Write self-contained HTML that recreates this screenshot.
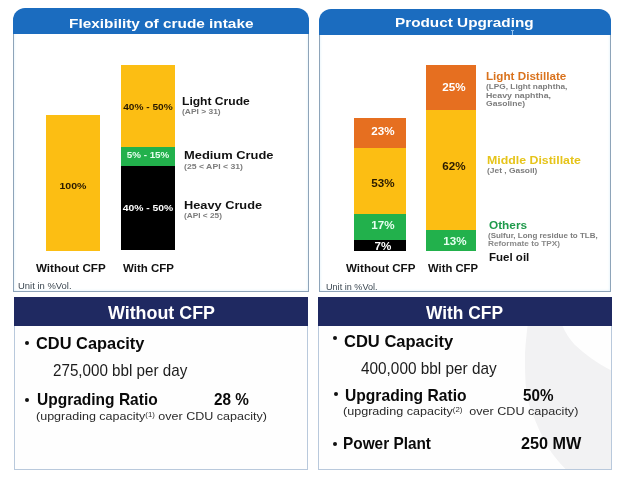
<!DOCTYPE html>
<html>
<head>
<meta charset="utf-8">
<title>CFP overview</title>
<style>
html,body{margin:0;padding:0;background:#fff;}
body{width:622px;height:478px;background:#fff;position:relative;overflow:hidden;font-family:"Liberation Sans",sans-serif;}
.t{position:absolute;white-space:nowrap;line-height:1;transform-origin:0 50%;}
.t.pc{transform-origin:50% 50%;}
.t sup{font-size:0.62em;vertical-align:baseline;position:relative;top:-0.38em;}
.panel{position:absolute;box-sizing:border-box;border:1px solid #8ea4b9;border-top:none;background:#fff;box-shadow:inset 0 0 3px #d9eef8;}
.hdr{position:absolute;background:#1b6cbf;border-radius:12px 12px 0 0;}
.hdr2{position:absolute;background:#1f2961;}
.bar{position:absolute;}
.y{background:#fcbe13;}
.g{background:#22b14c;}
.k{background:#000;}
.o{background:#e66f20;}
.dot{position:absolute;width:4px;height:4px;border-radius:50%;background:#111;}
.box{position:absolute;box-sizing:border-box;border:1px solid #b9c9dc;border-top:none;background:#fefefe;}
</style>
</head>
<body>
<div id="wrap" style="position:absolute;left:0;top:0;width:622px;height:478px;filter:blur(0.45px);">

<!-- top-left panel -->
<div class="panel" style="left:13.2px;top:20px;width:295.5px;height:271.6px;"></div>
<div class="hdr" style="left:13px;top:8.3px;width:296px;height:26.2px;"></div>
<div class="bar y" style="left:46px;top:114.5px;width:53.7px;height:136px;"></div>
<div class="bar y" style="left:121px;top:65px;width:54px;height:83px;"></div>
<div class="bar g" style="left:121px;top:147.3px;width:54px;height:18.7px;"></div>
<div class="bar k" style="left:121px;top:165.9px;width:54px;height:84.6px;"></div>

<!-- top-right panel -->
<div class="panel" style="left:319.3px;top:20px;width:291.4px;height:271.6px;"></div>
<div class="hdr" style="left:319px;top:9.3px;width:292.2px;height:25.4px;"></div>
<div class="bar o" style="left:354px;top:117.7px;width:51.5px;height:30.3px;"></div>
<div class="bar y" style="left:354px;top:147.7px;width:51.5px;height:66px;"></div>
<div class="bar g" style="left:354px;top:213.5px;width:51.5px;height:26.3px;"></div>
<div class="bar k" style="left:354px;top:239.5px;width:51.5px;height:11px;"></div>
<div class="bar o" style="left:425.7px;top:65.4px;width:50.5px;height:44.8px;"></div>
<div class="bar y" style="left:425.7px;top:110px;width:50.5px;height:120.3px;"></div>
<div class="bar g" style="left:425.7px;top:230px;width:50.5px;height:20.9px;"></div>

<div style="position:absolute;left:512.4px;top:30.2px;width:1px;height:5px;background:#9cc6f0;"></div>
<div style="position:absolute;left:511.4px;top:30px;width:3px;height:1px;background:#8dbdec;"></div>
<!-- bottom-left panel -->
<div class="box" style="left:13.7px;top:320px;width:294.3px;height:149.5px;"></div>
<div class="hdr2" style="left:13.7px;top:296.6px;width:294.3px;height:29.3px;"></div>
<div class="dot" style="left:24.9px;top:341.2px;"></div>
<div class="dot" style="left:24.7px;top:398px;"></div>

<!-- bottom-right panel -->
<div class="box" style="left:317.5px;top:310px;width:294.8px;height:159.5px;overflow:hidden;">
<svg width="295" height="160" viewBox="317.5 310 295 160" style="position:absolute;left:0;top:0;">
<path d="M526 326 C524.5 340 523.5 350 523.5 357 C523.5 370 523.8 380 524.5 388 C526 400 528 408 532 416 C535 424 540 436 547 448 C552 456 558 463 565 470 L613 470 L613 372 C600 366 584 355 573 344.5 C568 339 564 333 561 326 Z" fill="#f2f2f3"/>
</svg>
</div>
<div class="hdr2" style="left:317.5px;top:296.7px;width:294.6px;height:28.9px;"></div>
<div class="dot" style="left:332.6px;top:335.9px;"></div>
<div class="dot" style="left:333.6px;top:392.2px;"></div>
<div class="dot" style="left:333.4px;top:442.2px;"></div>

<div class="t" id="h1a" style="left:69.0px;top:16.9px;font-size:13.4px;font-weight:bold;color:#fff;transform:scaleX(1.148);">Flexibility of crude intake</div>
<div class="t" id="h1b" style="left:395.4px;top:16.3px;font-size:13.4px;font-weight:bold;color:#fff;transform:scaleX(1.143);">Product Upgrading</div>
<div class="t" id="l1" style="left:182.4px;top:96.0px;font-size:11.1px;font-weight:bold;color:#111;transform:scaleX(1.089);">Light Crude</div>
<div class="t" id="s1" style="left:181.7px;top:107.8px;font-size:7.8px;font-weight:bold;color:#7d7d7d;transform:scaleX(1.081);">(API &gt; 31)</div>
<div class="t" id="l2" style="left:184.0px;top:150.4px;font-size:11.1px;font-weight:bold;color:#111;transform:scaleX(1.162);">Medium Crude</div>
<div class="t" id="s2" style="left:184.0px;top:162.8px;font-size:7.8px;font-weight:bold;color:#7d7d7d;transform:scaleX(1.113);">(25 &lt; API &lt; 31)</div>
<div class="t" id="l3" style="left:184.0px;top:199.9px;font-size:11.1px;font-weight:bold;color:#111;transform:scaleX(1.151);">Heavy Crude</div>
<div class="t" id="s3" style="left:184.0px;top:212.1px;font-size:7.8px;font-weight:bold;color:#7d7d7d;transform:scaleX(1.061);">(API &lt; 25)</div>
<div class="t" id="x1" style="left:35.9px;top:263.0px;font-size:11.1px;font-weight:bold;color:#111;transform:scaleX(1.048);">Without CFP</div>
<div class="t" id="x2" style="left:123.3px;top:263.0px;font-size:11.1px;font-weight:bold;color:#111;transform:scaleX(1.035);">With CFP</div>
<div class="t" id="u1" style="left:18.1px;top:282.3px;font-size:8.3px;font-weight:normal;color:#3b4650;transform:scaleX(1.138);">Unit in %Vol.</div>
<div class="t" id="r1" style="left:486.3px;top:71.0px;font-size:11.1px;font-weight:bold;color:#d9721d;transform:scaleX(1.051);">Light Distillate</div>
<div class="t" id="rs1a" style="left:486.0px;top:82.8px;font-size:7.8px;font-weight:bold;color:#7d7d7d;transform:scaleX(1.061);">(LPG, Light naphtha,</div>
<div class="t" id="rs1b" style="left:486.0px;top:91.7px;font-size:7.8px;font-weight:bold;color:#7d7d7d;transform:scaleX(1.129);">Heavy naphtha,</div>
<div class="t" id="rs1c" style="left:486.0px;top:99.5px;font-size:7.8px;font-weight:bold;color:#7d7d7d;transform:scaleX(1.100);">Gasoline)</div>
<div class="t" id="r2" style="left:486.9px;top:154.8px;font-size:11.1px;font-weight:bold;color:#e6c41a;transform:scaleX(1.112);">Middle Distillate</div>
<div class="t" id="rs2" style="left:487.0px;top:167.2px;font-size:7.8px;font-weight:bold;color:#7d7d7d;transform:scaleX(1.077);">(Jet , Gasoil)</div>
<div class="t" id="r3" style="left:488.5px;top:220.1px;font-size:11.1px;font-weight:bold;color:#1f9a4b;transform:scaleX(1.064);">Others</div>
<div class="t" id="rs3a" style="left:488.0px;top:232.4px;font-size:7.8px;font-weight:bold;color:#7d7d7d;transform:scaleX(1.025);">(Sulfur, Long residue to TLB,</div>
<div class="t" id="rs3b" style="left:488.0px;top:240.1px;font-size:7.8px;font-weight:bold;color:#8a8a8a;transform:scaleX(1.059);">Reformate to TPX)</div>
<div class="t" id="r4" style="left:488.5px;top:251.8px;font-size:11.1px;font-weight:bold;color:#111;transform:scaleX(1.038);">Fuel oil</div>
<div class="t" id="x3" style="left:346.4px;top:263.1px;font-size:11.1px;font-weight:bold;color:#111;transform:scaleX(1.045);">Without CFP</div>
<div class="t" id="x4" style="left:427.9px;top:263.1px;font-size:11.1px;font-weight:bold;color:#111;transform:scaleX(1.016);">With CFP</div>
<div class="t" id="u2" style="left:326.4px;top:282.6px;font-size:8.3px;font-weight:normal;color:#3b4650;transform:scaleX(1.096);">Unit in %Vol.</div>
<div class="t" id="h2a" style="left:107.9px;top:303.7px;font-size:18.0px;font-weight:bold;color:#fff;transform:scaleX(0.992);">Without CFP</div>
<div class="t" id="b1" style="left:36.4px;top:335.4px;font-size:16.2px;font-weight:bold;color:#0a0a0a;transform:scaleX(1.013);">CDU Capacity</div>
<div class="t" id="g1" style="left:53.4px;top:361.7px;font-size:16.2px;font-weight:normal;color:#1c1c1c;transform:scaleX(0.938);">275,000 bbl per day</div>
<div class="t" id="b2" style="left:37.0px;top:392.4px;font-size:15.7px;font-weight:bold;color:#0a0a0a;transform:scaleX(0.989);">Upgrading Ratio</div>
<div class="t" id="b3" style="left:213.5px;top:392.4px;font-size:15.7px;font-weight:bold;color:#0a0a0a;transform:scaleX(0.975);">28 %</div>
<div class="t" id="m1" style="left:35.7px;top:411.0px;font-size:10.8px;font-weight:normal;color:#2a2a2a;transform:scaleX(1.160);">(upgrading capacity<sup>(1)</sup> over CDU capacity)</div>
<div class="t" id="h2b" style="left:426.2px;top:303.7px;font-size:18.0px;font-weight:bold;color:#fff;transform:scaleX(0.965);">With CFP</div>
<div class="t" id="c1" style="left:344.1px;top:333.2px;font-size:16.2px;font-weight:bold;color:#0a0a0a;transform:scaleX(1.021);">CDU Capacity</div>
<div class="t" id="c2" style="left:361.2px;top:359.8px;font-size:16.2px;font-weight:normal;color:#1c1c1c;transform:scaleX(0.948);">400,000 bbl per day</div>
<div class="t" id="c3" style="left:344.8px;top:387.8px;font-size:15.7px;font-weight:bold;color:#0a0a0a;transform:scaleX(0.996);">Upgrading Ratio</div>
<div class="t" id="c4" style="left:522.6px;top:387.8px;font-size:15.7px;font-weight:bold;color:#0a0a0a;transform:scaleX(0.971);">50%</div>
<div class="t" id="c5" style="left:343.4px;top:405.9px;font-size:10.8px;font-weight:normal;color:#2a2a2a;transform:scaleX(1.165);">(upgrading capacity<sup>(2)</sup>&nbsp; over CDU capacity)</div>
<div class="t" id="c6" style="left:343.4px;top:436.0px;font-size:15.7px;font-weight:bold;color:#0a0a0a;transform:scaleX(0.980);">Power Plant</div>
<div class="t" id="c7" style="left:521.2px;top:436.0px;font-size:15.7px;font-weight:bold;color:#0a0a0a;transform:scaleX(1.033);">250 MW</div>
<div class="t pc" id="p0" style="left:72.7px;top:180.6px;font-size:9.8px;font-weight:bold;color:#2a1a00;transform:translateX(-50%) scaleX(1.080);">100%</div>
<div class="t pc" id="p1" style="left:148.2px;top:102.0px;font-size:9.6px;font-weight:bold;color:#2a1a00;transform:translateX(-50%) scaleX(1.055);">40% - 50%</div>
<div class="t pc" id="p2" style="left:148.2px;top:150.4px;font-size:9.6px;font-weight:bold;color:#e6fff0;transform:translateX(-50%) scaleX(1.024);">5% - 15%</div>
<div class="t pc" id="p3" style="left:148.2px;top:202.8px;font-size:9.8px;font-weight:bold;color:#fff;transform:translateX(-50%) scaleX(1.054);">40% - 50%</div>
<div class="t pc" id="q1" style="left:382.7px;top:126.1px;font-size:11px;font-weight:bold;color:#fff;transform:translateX(-50%) scaleX(1.060);">23%</div>
<div class="t pc" id="q2" style="left:382.7px;top:177.8px;font-size:11px;font-weight:bold;color:#2a1a00;transform:translateX(-50%) scaleX(1.060);">53%</div>
<div class="t pc" id="q3" style="left:382.7px;top:220.1px;font-size:11px;font-weight:bold;color:#e6fff0;transform:translateX(-50%) scaleX(1.060);">17%</div>
<div class="t pc" id="q4" style="left:382.7px;top:241.4px;font-size:11px;font-weight:bold;color:#fff;transform:translateX(-50%) scaleX(1.060);">7%</div>
<div class="t pc" id="q5" style="left:453.5px;top:82.4px;font-size:11px;font-weight:bold;color:#fff;transform:translateX(-50%) scaleX(1.060);">25%</div>
<div class="t pc" id="q6" style="left:453.5px;top:161.3px;font-size:11px;font-weight:bold;color:#2a1a00;transform:translateX(-50%) scaleX(1.060);">62%</div>
<div class="t pc" id="q7" style="left:454.7px;top:235.6px;font-size:11px;font-weight:bold;color:#e6fff0;transform:translateX(-50%) scaleX(1.060);">13%</div>
</div>
</body>
</html>
